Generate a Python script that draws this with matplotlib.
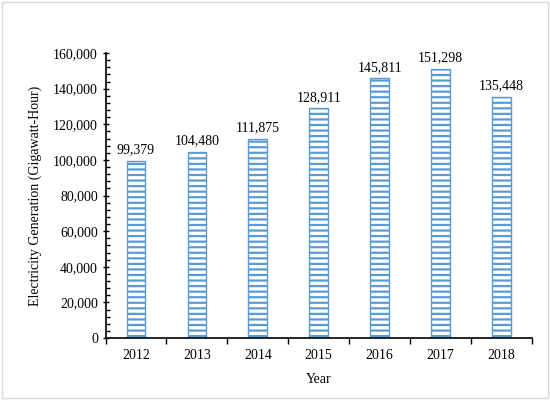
import numpy as np
import matplotlib.pyplot as plt
from matplotlib.ticker import FuncFormatter, MultipleLocator, FixedLocator

years = ['2012', '2013', '2014', '2015', '2016', '2017', '2018']
generation = [99379, 104480, 111875, 128911, 145811, 151298, 135448]

plt.rcParams['font.family'] = ['Liberation Serif', 'DejaVu Serif']
plt.rcParams['hatch.linewidth'] = 1.6
plt.rcParams['hatch.color'] = '#5b9bd5'

fig = plt.figure(figsize=(5.5, 4), dpi=100)
ax = fig.add_axes([0.192, 0.155, 0.775, 0.7125])

x = np.arange(len(years))
bars = ax.bar(x, generation, width=0.31, color='white', edgecolor='#5b9bd5',
              hatch='---', linewidth=1.0)

for xi, v in zip(x, generation):
    ax.text(xi, v + 2500, f'{v:,}', ha='center', va='bottom', fontsize=10)

ax.set_xlim(-0.5, len(years) - 0.5)
ax.set_ylim(0, 160000)
ax.set_xticks(x)
ax.set_xticklabels(years, fontsize=10)
ax.xaxis.set_minor_locator(FixedLocator(np.arange(-0.5, len(years)), ))
ax.tick_params(axis='x', which='major', length=0, pad=8)
ax.tick_params(axis='x', which='minor', length=4, width=1, direction='out')

ax.yaxis.set_major_locator(MultipleLocator(20000))
ax.yaxis.set_minor_locator(MultipleLocator(4000))
ax.yaxis.set_major_formatter(FuncFormatter(lambda v, p: f'{int(v):,}'))
ax.tick_params(axis='y', which='major', length=4, width=1, direction='inout', labelsize=10)
ax.tick_params(axis='y', which='minor', length=3, width=1, direction='in')

for s in ['top', 'right']:
    ax.spines[s].set_visible(False)
ax.spines['left'].set_linewidth(1.2)
ax.spines['bottom'].set_linewidth(1.2)

ax.set_xlabel('Year', fontsize=10, labelpad=8)
ax.set_ylabel('Electricity Generation (Gigawatt-Hour)', fontsize=10, labelpad=8)

fig.patches.append(plt.Rectangle((0.004, 0.004), 0.992, 0.992, transform=fig.transFigure,
                                 fill=False, edgecolor='#d9d9d9', linewidth=1))

fig.savefig('out.png', dpi=100)
